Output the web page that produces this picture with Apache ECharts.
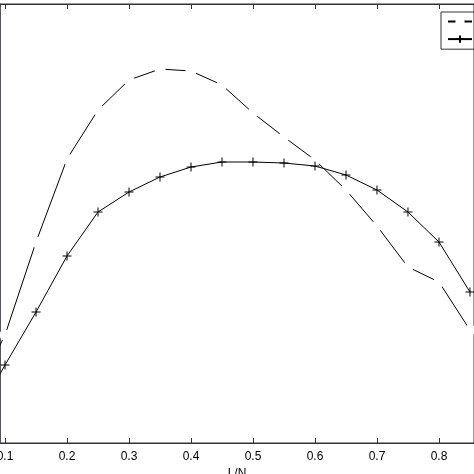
<!DOCTYPE html><html><head><meta charset="utf-8"><script src="https://cdn.jsdelivr.net/npm/echarts@6/dist/echarts.min.js"></script>
<style>html,body{margin:0;padding:0;background:#fff}#c{width:474px;height:474px}</style></head><body><div id="c"></div><script>
const xs=[0.05,0.1,0.15,0.2,0.25,0.3,0.35,0.4,0.45,0.5,0.55,0.6,0.65,0.7,0.75,0.8,0.85];
const circleVals=[46,108,201,284,333,363,374,372,358,330,306,283,253,217,176,161,113];
const plusVals=[23,78,131,187,231,251,266,276,281,281,280,277,268,253,231,201,151];
const xTicks=[0.1,0.2,0.3,0.4,0.5,0.6,0.7,0.8];
const chart=echarts.init(document.getElementById('c'));
const pair=v=>xs.map((x,i)=>[x,v[i]]);
const ax={axisLine:{lineStyle:{color:'#333'}},splitLine:{show:false}};
chart.setOption({animation:false,
grid:{left:0,right:0,top:4,bottom:31,outerBoundsMode:'none',containLabel:false,show:true,borderColor:'#333',borderWidth:1},
legend:{orient:'vertical',left:441,top:12,borderColor:'#333',borderWidth:1,borderRadius:0,padding:[4,6,4,6],itemWidth:24,itemHeight:9,itemGap:6,textStyle:{color:'#000',fontSize:11},data:['a','b']},
xAxis:[{...ax,type:'value',min:0.0919,max:0.8565,name:'L/N',nameLocation:'middle',nameGap:20,nameTextStyle:{color:'#000',fontSize:12,fontFamily:'Liberation Sans'},
axisLabel:{color:'#000',fontSize:12,fontFamily:'Liberation Sans',customValues:xTicks,formatter:v=>v.toFixed(1)},axisTick:{inside:true,length:5,customValues:xTicks,lineStyle:{color:'#333'}}},
{...ax,type:'value',position:'top',min:0.0919,max:0.8565,axisLabel:{show:false},axisTick:{inside:true,length:5,customValues:xTicks,lineStyle:{color:'#333'}}}],
yAxis:{type:'value',min:0,max:439,axisLabel:{show:false},axisTick:{show:false},splitLine:{show:false}},
series:[{name:'a',type:'line',data:pair(circleVals),symbol:'emptyCircle',symbolSize:9,lineStyle:{color:'#000',width:1},itemStyle:{color:'#fff',borderColor:'#000',borderWidth:1}},
{name:'b',type:'line',data:pair(plusVals),symbol:'path://M0,5L10,5M5,0L5,10',symbolSize:9,lineStyle:{color:'#000',width:1},itemStyle:{color:'none',borderColor:'#000',borderWidth:1}}]});
</script></body></html>
